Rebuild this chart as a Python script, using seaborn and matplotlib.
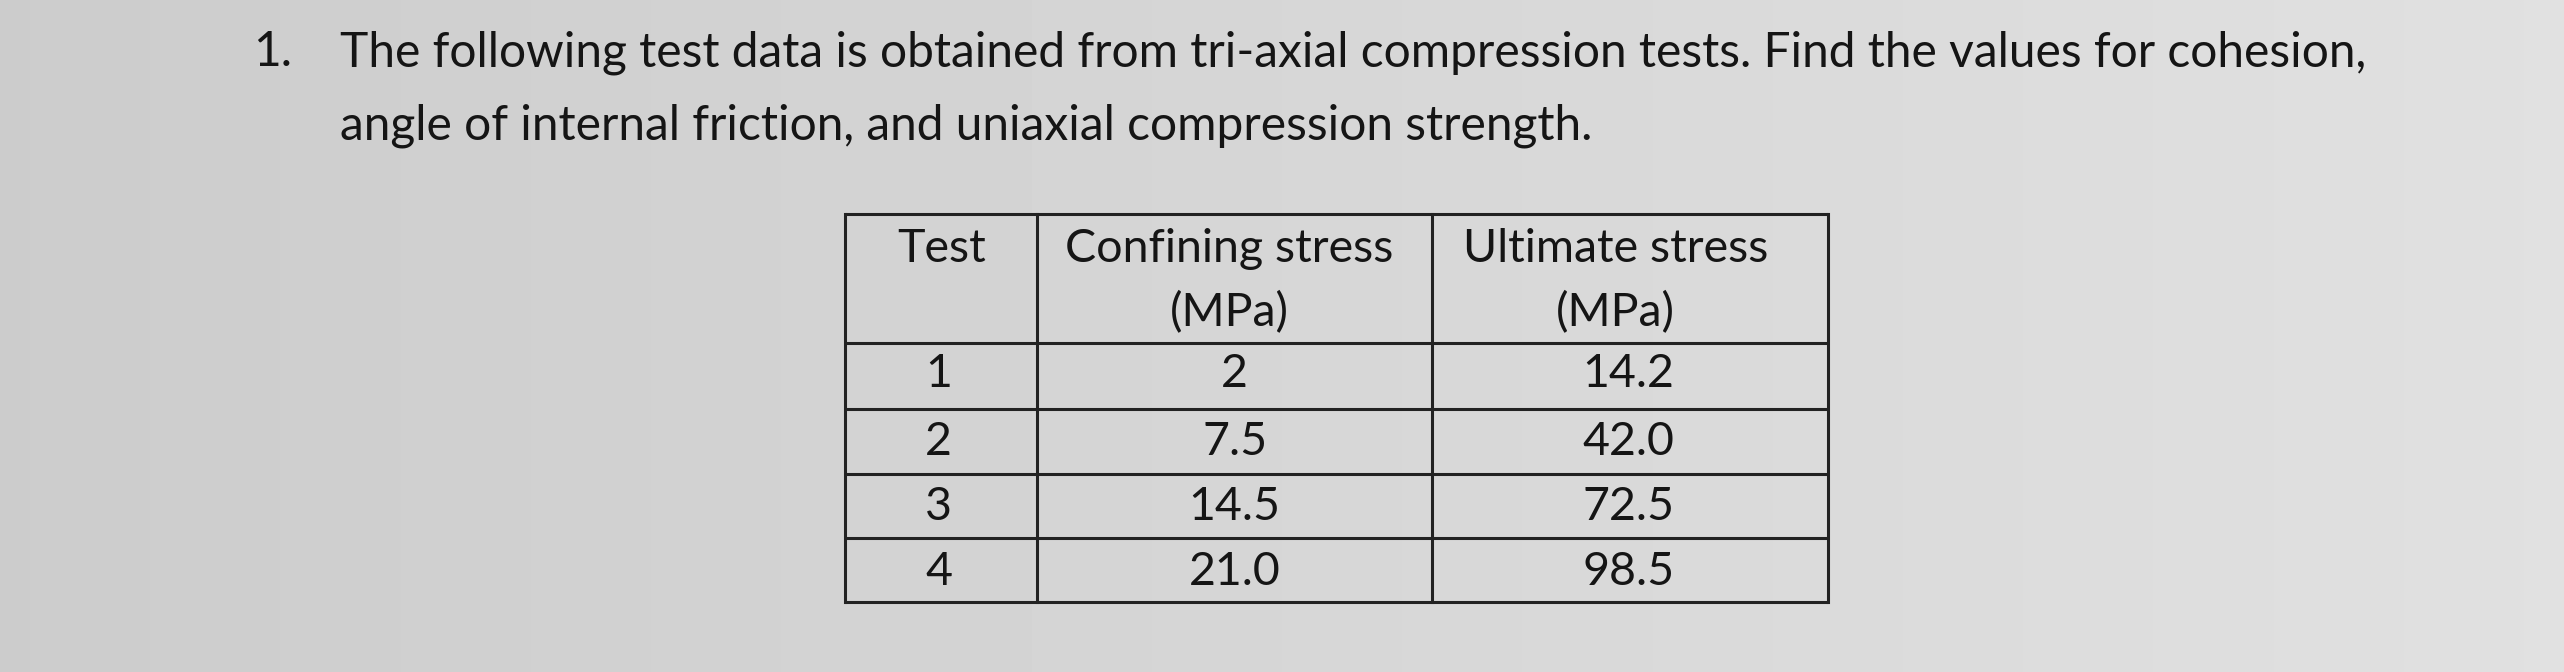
import matplotlib
matplotlib.use("Agg")
import matplotlib.pyplot as plt
import seaborn as sns
import numpy as np

sns.set_theme(style="white")
plt.rcParams['font.family'] = ['Lato', 'DejaVu Sans']

question_num = "1."
question_lines = ["The following test data is obtained from tri-axial compression tests. Find the values for cohesion,",
                  "angle of internal friction, and uniaxial compression strength."]
headers = [["Test"], ["Confining stress", "(MPa)"], ["Ultimate stress", "(MPa)"]]
tests = ["1", "2", "3", "4"]
confining = ["2", "7.5", "14.5", "21.0"]
ultimate = ["14.2", "42.0", "72.5", "98.5"]

S = 2564 / 1568
fig = plt.figure(figsize=(25.64, 6.72), dpi=100)
fig.patch.set_facecolor("#d9d9d9")
ax = fig.add_axes([0, 0, 1, 1])
ax.set_xlim(0, 2564); ax.set_ylim(672, 0); ax.axis("off")
grad = np.linspace(0.80, 0.88, 256)[None, :]
ax.imshow(grad, extent=[0, 2564, 672, 0], cmap="gray", vmin=0, vmax=1, aspect="auto", zorder=0)

fs = 34.5
tc = "#151515"
ax.text(155 * S, 32 * S, question_num, fontsize=fs, va="center", color=tc)
ax.text(208 * S, 32 * S, question_lines[0], fontsize=fs, va="center", color=tc)
ax.text(208 * S, 77 * S, question_lines[1], fontsize=fs, va="center", color=tc)

xs = [517, 634, 876, 1118]
ys = [131, 210, 250, 290, 329, 368]
lw = 2.2
for x in xs:
    ax.plot([x * S, x * S], [ys[0] * S, ys[-1] * S], color="#222", lw=lw, solid_capstyle="projecting")
for y in ys:
    sns.lineplot(x=[xs[0] * S, xs[-1] * S], y=[y * S, y * S], ax=ax, color="#222", lw=lw, sort=False)

hx = [576, 752, 988]
tfs = 33.5
for i, h in enumerate(headers):
    for j, t in enumerate(h):
        ax.text(hx[i] * S, (152 + 39 * j) * S, t, fontsize=tfs, ha="center", va="center", color=tc)
cx = [574, 755, 996]
rowy = [229, 270, 310, 350]
for k in range(4):
    for c, col in enumerate([tests, confining, ultimate]):
        ax.text(cx[c] * S, rowy[k] * S, col[k], fontsize=tfs, ha="center", va="center", color=tc)

fig.savefig("out.png", dpi=100)
